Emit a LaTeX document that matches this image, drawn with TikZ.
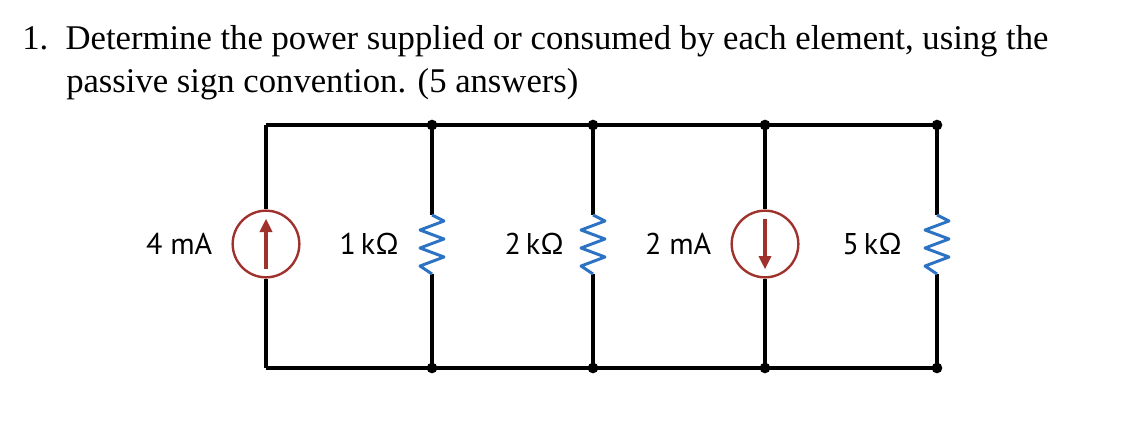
\documentclass[tikz,border=0pt]{standalone}
\usepackage{fontspec}
\setmainfont{Liberation Serif}
\newfontfamily\lbl{PT Sans}
\usetikzlibrary{arrows.meta}
\definecolor{srcred}{RGB}{160,50,45}
\definecolor{resblue}{RGB}{45,115,195}
\begin{document}
\begin{tikzpicture}[x=0.75pt,y=-0.75pt,
  wire/.style={line width=3pt,black},
  dot/.style={circle,fill=black,inner sep=0pt,minimum size=8pt},
  src/.style={circle,draw=srcred,line width=1.8pt,minimum size=50pt,inner sep=0pt,fill=white},
  res/.style={resblue,line width=2.2pt,line join=round},
  lab/.style={font=\lbl\fontsize{22.5}{24}\selectfont,anchor=east},
  ttl/.style={font=\fontsize{26}{30}\selectfont,anchor=base west,inner sep=0pt}]
\useasboundingbox (0,0) rectangle (1135,436);
\node[ttl] (t1) at (22,49) {1.\ \ Determine the power supplied or consumed by each element, using the};
\node[ttl] (t2) at (66,92) {passive sign convention. (5 answers)};
\coordinate (tl) at (266,125); \coordinate (bl) at (266,368);
\foreach \n/\x in {a/432,b/593,c/765,d/937}{
  \node[dot] (t\n) at (\x,125) {};
  \node[dot] (b\n) at (\x,368) {};
}
\draw[wire] (tl) -- (td.center) (bl) -- (bd.center);
\node[src] (s1) at (266,244) {};
\node[src] (s2) at (765,244) {};
\draw[wire] (tl) -- (s1) (s1) -- (bl);
\draw[wire] (tc.center) -- (s2) (s2) -- (bc.center);
\draw[srcred,line width=2.4pt,-{Triangle[length=10pt,width=9pt]}] ([yshift=-19pt]s1.center) -- ([yshift=19pt]s1.center);
\draw[srcred,line width=2.4pt,-{Triangle[length=10pt,width=9pt]}] ([yshift=19pt]s2.center) -- ([yshift=-19pt]s2.center);
\foreach \n/\x in {a/432,b/593,d/937}{
  \coordinate (r\n1) at (\x,215); \coordinate (r\n2) at (\x,274);
  \draw[wire] (t\n.center) -- (r\n1) (r\n2) -- (b\n.center);
  \draw[res] (r\n1) -- ++(12,6) -- ++(-24,9) -- ++(24,9) -- ++(-24,9) -- ++(24,9) -- ++(-24,9) -- (r\n2);
}
\node[lab] (l1) at (217,244) {4 mA};
\node[lab] (l2) at (404,244) {1\,k\char"03A9};
\node[lab] (l3) at (569,244) {2\,k\char"03A9};
\node[lab] (l4) at (716,244) {2 mA};
\node[lab] (l5) at (907,244) {5\,k\char"03A9};
\end{tikzpicture}
\end{document}
